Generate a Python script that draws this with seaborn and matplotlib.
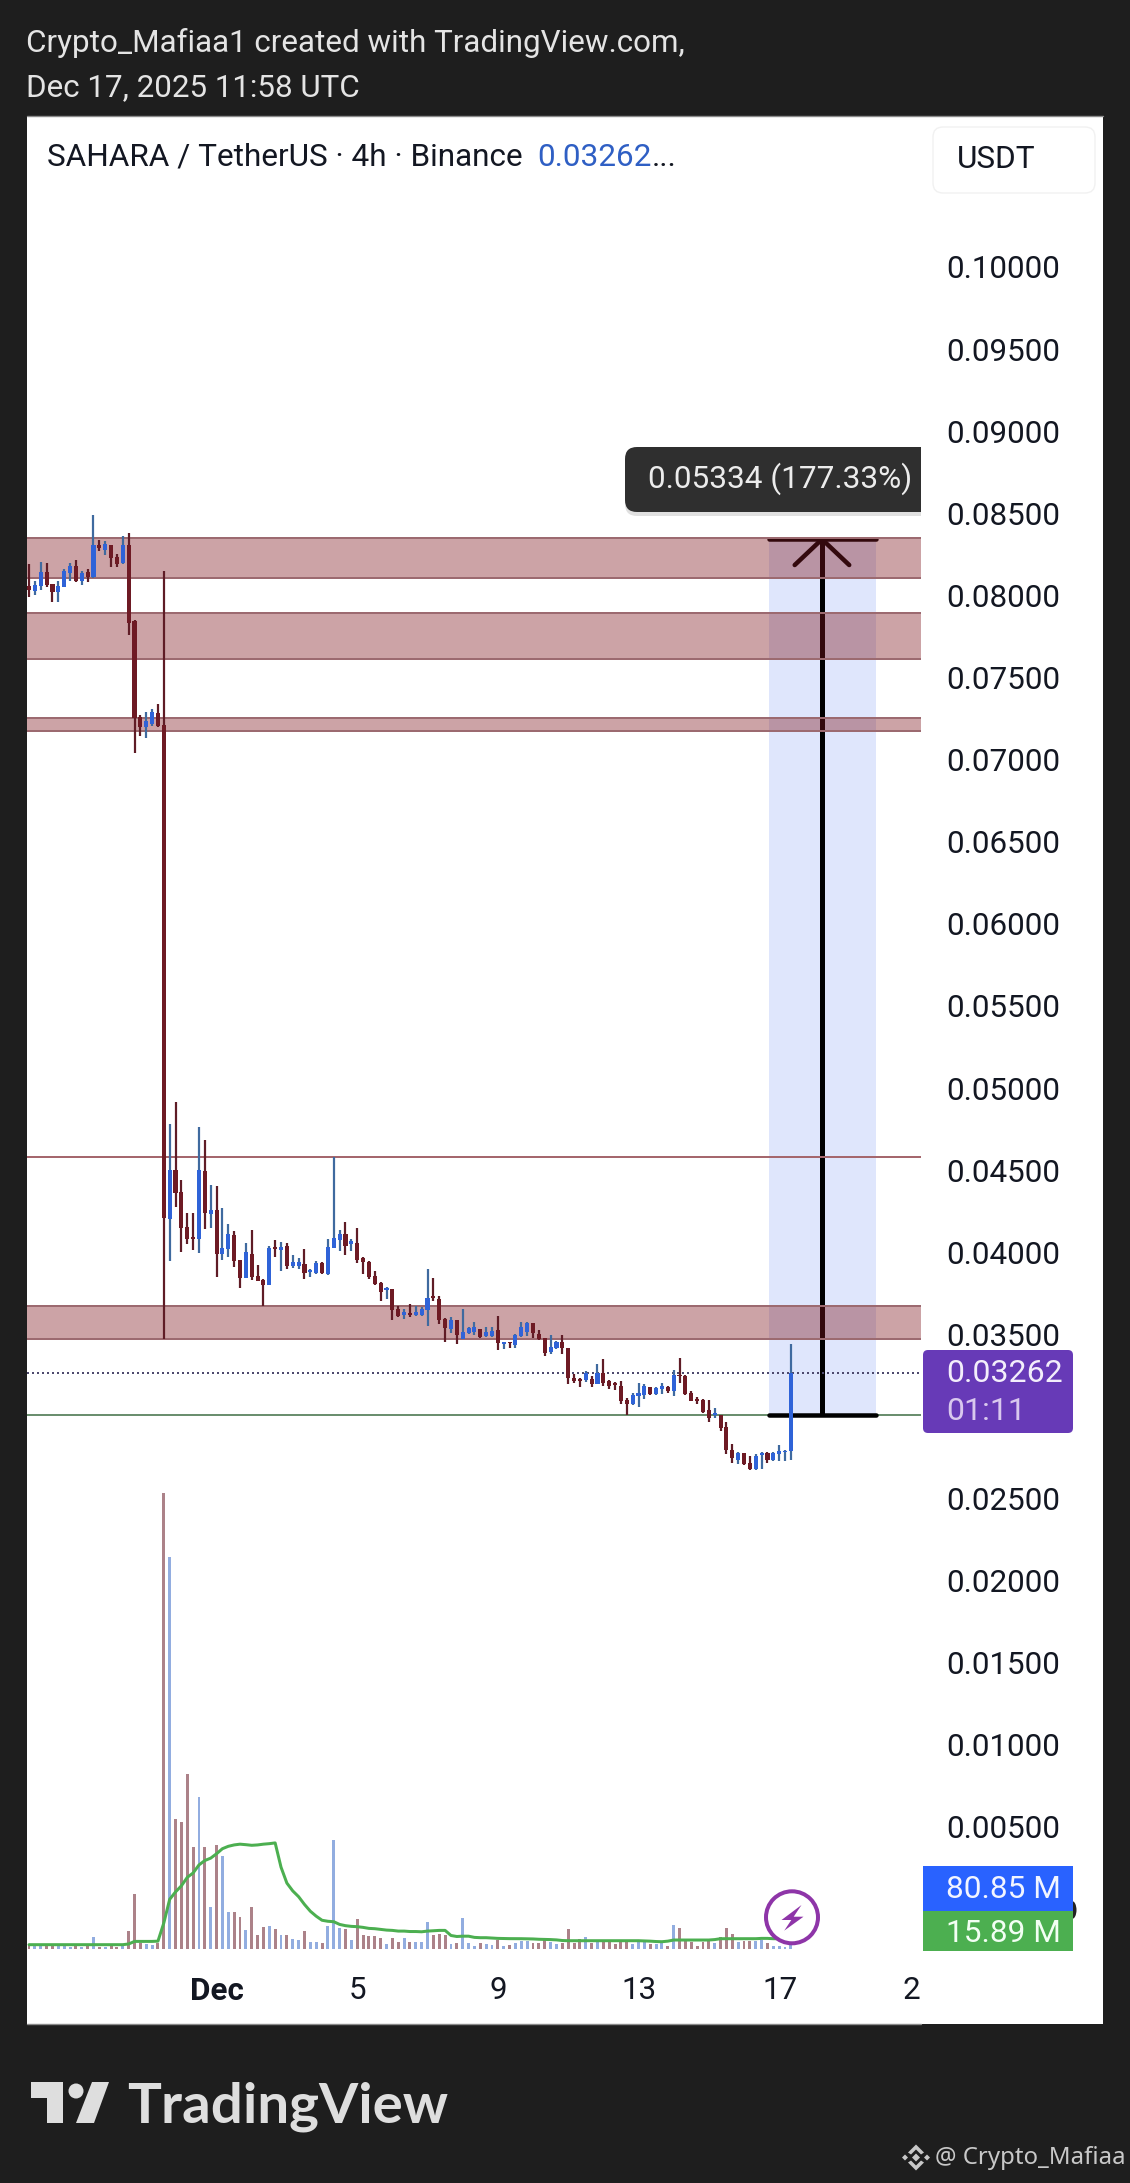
import numpy as np
import pandas as pd
import matplotlib
matplotlib.use('Agg')
import matplotlib.pyplot as plt
from matplotlib.patches import Rectangle, FancyBboxPatch, Circle, Polygon, Ellipse
import seaborn as sns

# prices are in 1e-5 USDT
highs = [8191,8088,8204,8196,8070,8088,8161,8196,8216,8149,
         8161,8490,8338,8334,8307,8252,8362,8380,7850,7270,
         7290,7310,7339,8151,4781,4915,4440,4237,4237,4763,
         4684,4410,4403,4269,4172,4129,3953,4056,4135,3922,
         3837,4038,4075,4062,4054,3983,3963,4020,3900,3945,
         3941,4081,4580,4135,4184,4083,4148,3973,3945,3886,
         3819,3788,3776,3673,3654,3685,3673,3667,3898,3843,
         3734,3598,3608,3588,3654,3547,3577,3535,3545,3545,
         3612,3451,3456,3502,3577,3577,3571,3527,3476,3496,
         3462,3496,3415,3259,3232,3277,3246,3320,3350,3222,
         3212,3216,3112,3141,3204,3198,3177,3177,3206,3186,
         3283,3356,3250,3157,3121,3104,3100,3052,3011,2966,
         2832,2784,2780,2759,2771,2784,2782,2784,2826,2796,3441]
lows = [7993,8003,8033,8049,7960,7960,8049,8088,8082,8064,
        8082,8108,8271,8246,8171,8171,8191,7759,7042,7144,
        7132,7205,7201,3474,3947,4278,4002,4050,4014,3997,
        4142,4148,3851,3953,3971,3910,3782,3843,3831,3823,
        3673,3803,3971,3886,3898,3904,3898,3837,3849,3868,
        3868,3863,4026,4008,3983,4008,3934,3868,3837,3800,
        3703,3715,3587,3606,3593,3604,3612,3612,3551,3705,
        3563,3451,3506,3441,3470,3502,3496,3478,3482,3486,
        3405,3411,3417,3417,3482,3490,3476,3468,3368,3378,
        3409,3380,3198,3206,3177,3210,3177,3198,3186,3165,
        3161,3076,3007,3072,3060,3108,3131,3131,3137,3141,
        3125,3202,3131,3092,3076,3023,2966,2993,2911,2771,
        2717,2711,2704,2674,2674,2680,2719,2731,2729,2729,2735]
opens = [8057,8029,8057,8143,8070,8021,8053,8135,8179,8088,
         8145,8114,8307,8277,8307,8232,8196,8307,7844,7262,
         7197,7217,7282,7211,4202,4501,4367,4152,4095,4083,
         4497,4233,4257,3987,4020,4105,3953,3843,3989,3855,
         3831,3803,4034,4014,4038,3916,3916,3928,3880,3872,
         3935,3868,4026,4075,4111,4050,4054,3963,3941,3855,
         3813,3770,3774,3652,3618,3628,3618,3618,3648,3734,
         3715,3591,3531,3588,3474,3506,3512,3533,3490,3490,
         3527,3441,3456,3435,3490,3516,3567,3502,3476,3395,
         3419,3456,3415,3236,3226,3222,3226,3198,3263,3216,
         3202,3186,3100,3076,3125,3131,3177,3135,3169,3177,
         3157,3253,3246,3145,3108,3100,3039,3007,3011,2934,
         2796,2735,2776,2719,2680,2765,2780,2735,2771,2784,2790]
closes = [8033,8062,8145,8062,8023,8057,8151,8179,8090,8139,
          8110,8307,8287,8313,8230,8191,8307,7834,7252,7201,
          7233,7292,7205,4207,4501,4363,4148,4083,4079,4501,
          4241,4257,3989,4024,4111,3947,3843,4000,3847,3827,
          3803,4024,4018,4034,3916,3941,3941,3876,3892,3937,
          3872,4030,4085,4111,4038,4067,3953,3941,3851,3807,
          3758,3782,3648,3612,3636,3616,3636,3654,3719,3721,
          3587,3537,3588,3494,3516,3537,3547,3486,3514,3522,
          3445,3451,3445,3496,3543,3567,3506,3472,3389,3425,
          3454,3415,3232,3218,3216,3263,3198,3267,3206,3186,
          3192,3096,3076,3131,3141,3188,3135,3173,3186,3153,
          3253,3246,3137,3096,3092,3027,2991,3019,2930,2796,
          2745,2778,2711,2680,2759,2778,2735,2778,2790,2790,3265]

# volume in millions
volumes = [5.6,5.6,5.6,4.8,4.8,4.8,4.8,2.4,4.8,2.4,
           4.8,19.1,2.4,2.4,5.6,3.2,4.8,28.1,87.0,9.5,
           8.0,6.4,9.5,725,622.5,205.9,201,277.3,161.9,241.4,
           161.9,66.1,165,147.2,58,58,50.6,29.6,66.1,21.5,
           34.3,36.1,31.2,21.5,21.5,15.1,14,28,10.8,10.8,
           9.1,36.1,172.5,32.8,31.2,14,47.2,21.5,19.9,19.9,
           16.7,7.5,16.7,10.8,16.7,10.8,10.8,10.8,42.5,21.5,
           23.1,21.5,7.5,9.1,49,9.1,4.3,8.4,7.5,5.9,
           13.8,4.3,6.4,9.5,12.7,12.7,9.5,9.5,15.9,11.1,
           7.5,9.5,30.7,9.5,14.8,18.6,9.5,12.7,12.7,11.1,
           7.5,11.1,13.8,7.5,11.1,11.1,7.5,7.5,9.5,4.3,
           37.7,32.9,12.7,11.1,4.3,11.1,15.9,9.5,18,32.9,
           23.4,11.1,12.7,12.7,12.7,13.8,9.5,4.3,4.3,3.2,80.85]
volume_ma = [6.4,6.4,6.4,6.4,6.4,6.4,6.4,6.4,6.4,6.4,
             6.4,6.4,6.4,6.4,6.4,6.4,6.4,7.5,11.6,11.6,
             11.6,11.6,12,40.9,78.5,90.3,100,113.4,120.4,133.2,
             140.2,144,151,159,162.8,165,166.2,165.4,164.4,165,
             166.2,167,168.2,129.6,104.3,91.9,82.7,70.4,59.6,51.7,
             45.2,43.6,42.9,38.6,36.6,35.5,35,33.9,32.3,31.8,
             30.7,29.6,29.1,28,28,27.3,27.3,26.9,28,28.5,
             29.1,29.1,21,19.4,19.9,19.9,18,17.5,17.5,17,
             16.4,16.2,16,16,15.9,15.7,15.5,15,14.8,14.5,
             14,13,12.7,12.7,12.7,12.7,12.7,12.7,12.7,12.7,
             12.7,12.7,12.7,12.7,12.7,12.4,12,11.4,11.1,12,
             13.8,13.8,13.8,13.8,13.8,13.8,13.8,14.5,15.9,15.9,
             15.9,15.9,15.9,15.9,15.9,16.4,16.4,15.89,15.89,15.89,15.89]

# 0.03000 and 0.00000 sit behind the tags in the reference
price_ticks = [0.005, 0.01, 0.015, 0.02, 0.025, 0.035, 0.04, 0.045, 0.05, 0.055,
               0.06, 0.065, 0.07, 0.075, 0.08, 0.085, 0.09, 0.095, 0.1]
date_ticks = [32.1, 56.1, 80.1, 104.1, 128.1, 152.1]
date_labels = ['Dec', '5', '9', '13', '17', '21']

# zones drawn on the chart, low and high price
zones = [(0.08106, 0.08352), (0.07613, 0.07895), (0.07176, 0.07254), (0.03474, 0.03675)]
resistance = 0.04580
support = 0.03009
last_price = 0.03262
measure_top = 0.08342
measure_left, measure_right, measure_mid = 126.2, 144.5, 135.3

BG = '#1e1e1e'
TEXT = '#131722'
UP = '#2f63d8'
DOWN = '#6e1a24'
UP_WICK = '#3f6a9f'
DOWN_WICK = '#5f1c26'
W, H = 1130, 2183
PANEL_BOTTOM = 2024

sns.set_theme(style='white')
plt.rcParams['font.family'] = ['Roboto', 'DejaVu Sans']


def fs(px):
    # font size from pixel height at dpi 100
    return px * 0.72


def axes_rect(left, top, right, bottom):
    return [left / W, 1 - bottom / H, (right - left) / W, (bottom - top) / H]


fig = plt.figure(figsize=(W / 100, H / 100), dpi=100, facecolor=BG)

# white panel behind everything
back = fig.add_axes([0, 0, 1, 1], zorder=0)
back.set_xlim(0, W)
back.set_ylim(H, 0)
back.axis('off')
back.add_patch(Rectangle((26.5, 116), 1103 - 26.5, PANEL_BOTTOM - 116, fc='white', ec='none'))

# overlay in pixels for the tags and the branding
over = fig.add_axes([0, 0, 1, 1], zorder=5)
over.set_xlim(0, W)
over.set_ylim(H, 0)
over.axis('off')
over.patch.set_alpha(0)

# Price panel
ax = fig.add_axes(axes_rect(26.5, 116, 921, PANEL_BOTTOM), zorder=1)
ax.set_facecolor('white')
for s in ax.spines.values():
    s.set_visible(False)

idx = np.arange(len(closes))
o = np.array(opens) * 1e-5
c = np.array(closes) * 1e-5
hi = np.array(highs) * 1e-5
lo = np.array(lows) * 1e-5
is_up = c >= o

# long position box and arrow sit under the zones
ax.add_patch(Rectangle((measure_left, support), measure_right - measure_left, measure_top - support,
                       fc='#dfe6fc', ec='none', zorder=1))
ax.plot([measure_mid, measure_mid], [support, measure_top], color='black', lw=fs(5), zorder=2, solid_capstyle='butt')
ax.plot([measure_mid - 4.65, measure_mid, measure_mid + 4.65], [0.08185, measure_top, 0.08185],
        color='black', lw=fs(4.5), zorder=2, solid_capstyle='round')
ax.plot([measure_left, measure_right], [measure_top, measure_top], color='black', lw=fs(4.5), zorder=2)
ax.plot([measure_left, measure_right], [support, support], color='black', lw=fs(4.5), zorder=3.5)

for z_lo, z_hi in zones:
    ax.axhspan(z_lo, z_hi, fc='#801922', alpha=0.4, ec='none', zorder=3)
    ax.axhline(z_lo, color='#9c6a70', lw=fs(2), zorder=3.1)
    ax.axhline(z_hi, color='#9c6a70', lw=fs(2), zorder=3.1)
ax.axhline(resistance, color='#a5676d', lw=fs(2), zorder=3.1)
ax.axhline(support, color='#6b8f6f', lw=fs(2), zorder=3.1)
ax.axhline(last_price, color='#4d4a6e', lw=fs(2), ls=(0, (1, 1.5)), zorder=3.1)

# candles
ax.vlines(idx, lo, hi, colors=np.where(is_up, UP_WICK, DOWN_WICK), lw=fs(2.2), zorder=4)
ax.bar(idx, np.abs(c - o), bottom=np.minimum(o, c), width=0.7,
       color=np.where(is_up, UP, DOWN), zorder=5, linewidth=0)

ax.set_xlim(-0.43, 152.2)
ax.set_ylim(0.1 - (PANEL_BOTTOM - 267) / 16420, 0.1 - (116 - 267) / 16420)

ax.yaxis.tick_right()
ax.set_yticks(price_ticks)
ax.set_yticklabels(['%.5f' % t for t in price_ticks], fontsize=fs(31.4), color=TEXT)
ax.tick_params(axis='y', length=0, pad=fs(25.5))
ax.set_xticks(date_ticks)
ax.set_xticklabels(date_labels, fontsize=fs(31.4), color=TEXT)
ax.tick_params(axis='x', length=0, pad=fs(-48))
ax.get_xticklabels()[0].set_fontweight('bold')
for lbl in ax.get_xticklabels():
    lbl.set_clip_on(True)
    lbl.set_clip_path(ax.patch)
ax.grid(False)

# tooltip of the measure tool, cut off by the price scale
for dy, col, a in [(4, '#000000', 0.12), (0, '#2f2f2f', 1)]:
    box = FancyBboxPatch((625, 447 + dy), 340, 65, boxstyle='round,pad=0,rounding_size=12',
                         fc=col, ec='none', alpha=a, transform=over.transData, zorder=8)
    ax.add_patch(box)
ax.text(648, 479, '0.05334 (177.33%)', color='#ececec', fontsize=fs(31.5), va='center', ha='left',
        transform=over.transData, zorder=9)

# Volume panel
vol_ax = fig.add_axes(axes_rect(26.5, 116, 921, PANEL_BOTTOM), zorder=2)
vol_df = pd.DataFrame({'bar': idx, 'volume': volumes, 'side': np.where(is_up, 'up', 'down')})
sns.barplot(data=vol_df, x='bar', y='volume', hue='side', palette={'up': '#92ade0', 'down': '#ac8289'},
            native_scale=True, width=0.5, dodge=False, errorbar=None, legend=False, saturation=1,
            linewidth=0, ax=vol_ax)
sns.lineplot(x=idx, y=volume_ma, color='#4caf50', lw=fs(3), errorbar=None, ax=vol_ax, zorder=6)
vol_ax.set_xlim(-0.43, 152.2)
vol_ax.set_ylim((1948.7 - PANEL_BOTTOM) * 1.59, (1948.7 - 116) * 1.59)
vol_ax.set_axis_off()
vol_ax.patch.set_alpha(0)

# header
over.text(26, 42.5, 'Crypto_Mafiaa1 created with TradingView.com,', color='#e4e4e4', fontsize=fs(31.4), va='center')
over.text(26, 88, 'Dec 17, 2025 11:58 UTC', color='#e4e4e4', fontsize=fs(31.4), va='center')
over.plot([26.5, 1103], [116, 116], color='#8a8a8a', lw=1)
over.plot([26.5, 921], [PANEL_BOTTOM, PANEL_BOTTOM], color='#8a8a8a', lw=1)

# legend line at the top of the chart
over.text(47, 157, 'SAHARA / TetherUS · 4h · Binance', color=TEXT, fontsize=fs(31.5), va='center')
over.text(537, 157, '0.03262', color='#2f5fc4', fontsize=fs(31.5), va='center')
over.text(652, 157, '...', color=TEXT, fontsize=fs(31.5), va='center')
over.add_patch(FancyBboxPatch((933, 127), 162, 66, boxstyle='round,pad=0,rounding_size=10',
                              fc='white', ec='#f1f1f1', lw=1))
over.text(957, 159, 'USDT', color=TEXT, fontsize=fs(31.5), va='center')

# price tag
over.add_patch(FancyBboxPatch((923, 1350), 150, 83, boxstyle='round,pad=0,rounding_size=5',
                              fc='#673ab7', ec='none'))
over.text(946, 1374, '0.03262', color='#f3eefb', fontsize=fs(32), va='center')
over.text(946, 1411, '01:11', color='#d9c8ee', fontsize=fs(32), va='center')

# volume tags
over.add_patch(Ellipse((1072, 1910), 9, 18, fc='#222222', ec='none'))
over.add_patch(Rectangle((923, 1865.5), 150, 45.5, fc='#2962ff', ec='none'))
over.add_patch(Rectangle((923, 1910.5), 150, 40.5, fc='#4caf50', ec='none'))
over.text(1061, 1889, '80.85 M', color='#f2f5ff', fontsize=fs(31.6), va='center', ha='right')
over.text(1061, 1934, '15.89 M', color='#f2fff3', fontsize=fs(31.6), va='center', ha='right')

# lightning button
over.add_patch(Circle((792, 1917.3), 26, fc='white', ec='#8e35a8', lw=fs(4)))
over.add_patch(Polygon([(801.5, 1905), (781.5, 1920), (791.3, 1920), (784.2, 1930.7),
                        (803.5, 1916.7), (793.7, 1916.7)], closed=True, fc='#8e35a8', ec='none'))

# TradingView logo
LOGO = '#dedede'
over.add_patch(Polygon([(31, 2082), (63, 2082), (63, 2123), (47, 2123), (47, 2098), (31, 2098)], fc=LOGO, ec='none'))
over.add_patch(Circle((76, 2091), 7.5, fc=LOGO, ec='none'))
over.add_patch(Polygon([(92, 2082), (109, 2082), (94, 2123), (76, 2123)], fc=LOGO, ec='none'))
over.text(127, 2123, 'TradingView', color=LOGO, fontsize=fs(56.5), fontweight='bold', family='Lato',
          va='baseline')

# watermark
MARK = '#c8c8c8'
cx, cy = 916, 2157.5
over.add_patch(Polygon([(cx - 8, cy - 5), (cx, cy - 13), (cx + 8, cy - 5), (cx + 5, cy - 3), (cx, cy - 8), (cx - 5, cy - 3)], fc=MARK, ec='none'))
over.add_patch(Polygon([(cx - 8, cy + 5), (cx, cy + 13), (cx + 8, cy + 5), (cx + 5, cy + 3), (cx, cy + 8), (cx - 5, cy + 3)], fc=MARK, ec='none'))
over.add_patch(Polygon([(cx - 4, cy), (cx, cy - 4), (cx + 4, cy), (cx, cy + 4)], fc=MARK, ec='none'))
for dx in (-11, 11):
    over.add_patch(Polygon([(cx + dx - 3, cy), (cx + dx, cy - 3), (cx + dx + 3, cy), (cx + dx, cy + 3)], fc=MARK, ec='none'))
over.text(935, 2157.5, '@ Crypto_Mafiaa', color=MARK, fontsize=fs(24), family='Noto Sans', va='center')

fig.savefig('out.png', dpi=100, facecolor=BG)
